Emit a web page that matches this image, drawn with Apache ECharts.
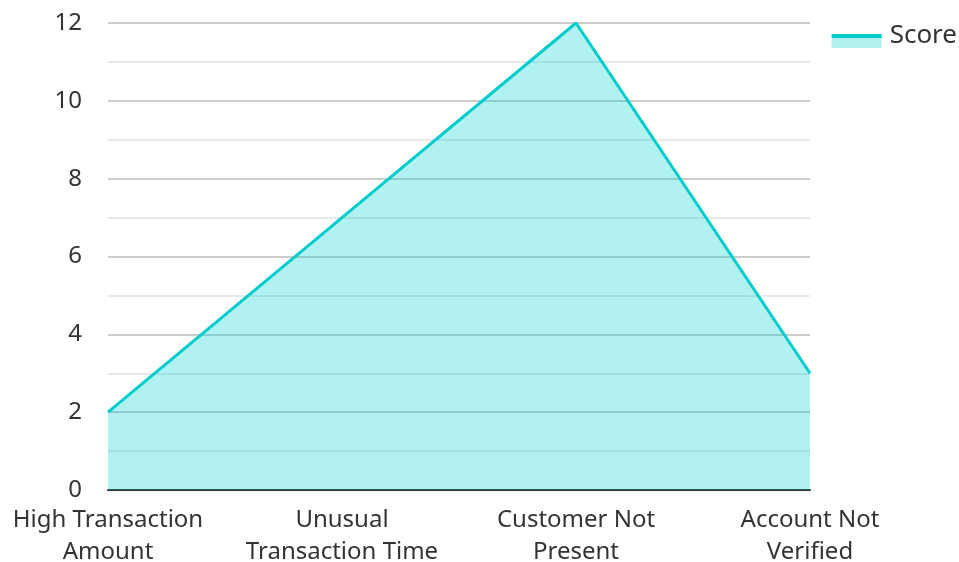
<!DOCTYPE html>
<html>
<head>
    <meta charset="utf-8">
    <title>Score</title>
    <script src="https://cdn.jsdelivr.net/npm/echarts@6/dist/echarts.min.js"></script>
    <style>
        html, body { margin: 0; padding: 0; background: #fff; overflow: hidden; }
        #main { width: 959px; height: 562px; }
    </style>
</head>
<body>
    <div id="main"></div>
    <script type="text/javascript">
    var categories = ['High Transaction\nAmount', 'Unusual\nTransaction Time', 'Customer Not\nPresent', 'Account Not\nVerified'];
    var scores = [2, 7, 12, 3];
    var seriesName = 'Score';

    var lineColor = '#00cccc';
    var fillColor = '#b2efef';

    var chart = echarts.init(document.getElementById('main'), null, {renderer: 'canvas'});
    chart.setOption({
        animation: false,
        textStyle: { fontFamily: 'Noto Sans' },
        legend: {
            right: 2, top: 23, padding: 0,
            itemWidth: 50, itemHeight: 24, itemGap: 8,
            textStyle: { fontSize: 26, color: '#333', fontFamily: 'Noto Sans', padding: [0, 0, 0, 3] },
            data: [{
                name: seriesName,
                icon: 'rect',
                // icon sits a little below the text: transparent top, then line, then area
                itemStyle: {
                    color: new echarts.graphic.LinearGradient(0, 0, 0, 1, [
                        { offset: 0, color: 'rgba(255,255,255,0)' },
                        { offset: 0.41, color: 'rgba(255,255,255,0)' },
                        { offset: 0.41, color: lineColor },
                        { offset: 0.57, color: lineColor },
                        { offset: 0.57, color: fillColor },
                        { offset: 1, color: fillColor }
                    ])
                }
            }]
        },
        grid: { left: 108, right: 149, top: 23, bottom: 72, containLabel: false, outerBoundsMode: 'none' },
        xAxis: {
            type: 'category',
            data: categories,
            boundaryGap: false,
            axisLine: { lineStyle: { color: '#333', width: 2 } },
            axisTick: { show: false },
            axisLabel: { fontSize: 24, color: '#333', lineHeight: 32, margin: 14, interval: 0 }
        },
        yAxis: {
            type: 'value',
            min: 0, max: 12, interval: 2,
            axisLine: { show: false },
            axisTick: { show: false },
            axisLabel: { fontSize: 24, color: '#333', margin: 26 },
            splitLine: { lineStyle: { color: '#ccc', width: 2 } },
            minorTick: { show: false, splitNumber: 2 },
            minorSplitLine: { show: true, lineStyle: { color: '#e8e8e8', width: 2 } }
        },
        series: [{
            name: seriesName,
            type: 'line',
            data: scores,
            showSymbol: false,
            lineStyle: { color: lineColor, width: 3 },
            itemStyle: { color: lineColor },
            areaStyle: { color: '#00cfd0', opacity: 0.3 }
        }]
    });
    </script>
</body>
</html>
